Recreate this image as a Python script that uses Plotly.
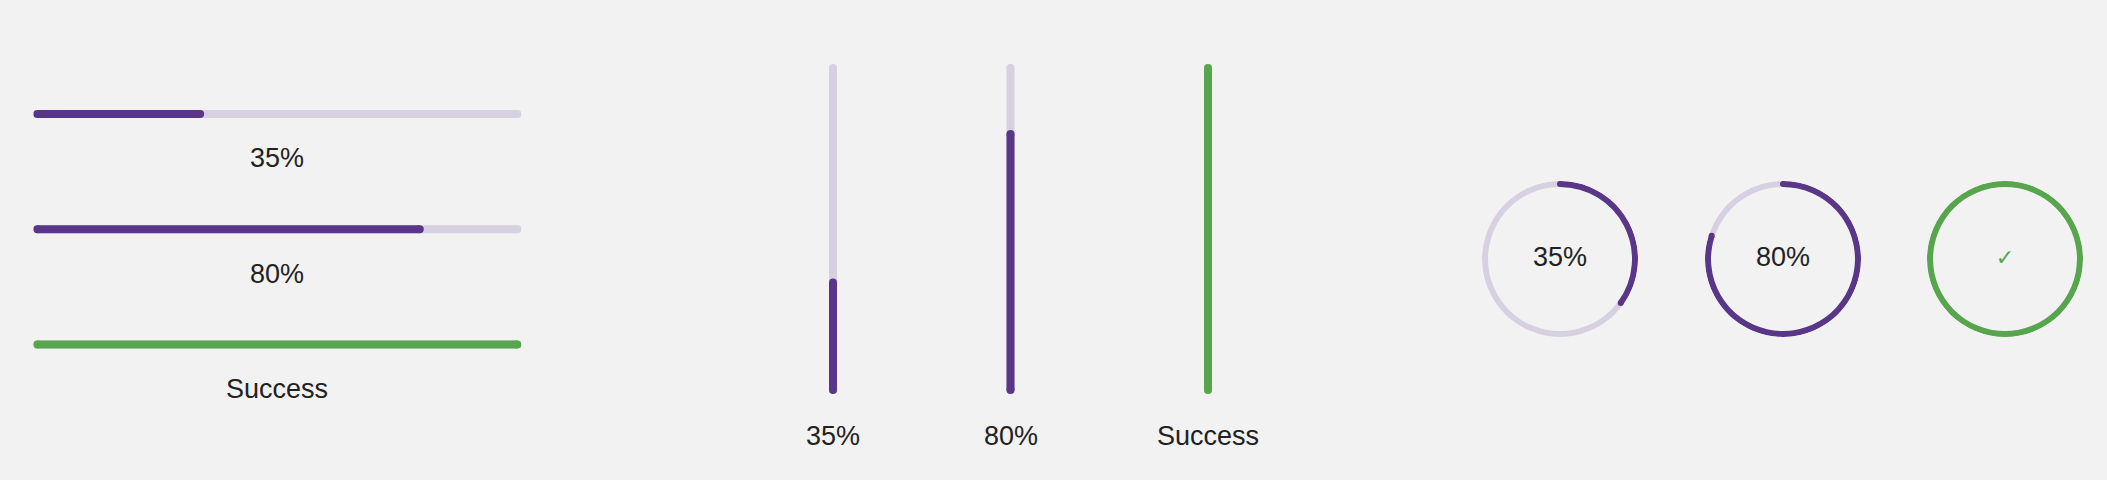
import plotly.graph_objects as go

# ---------------- data ----------------
LINEAR_LABELS = ["35%", "80%", "Success"]
LINEAR_VALUES = [35, 80, 100]
LINEAR_STATE = ["progress", "progress", "success"]

VERTICAL_LABELS = ["35%", "80%", "Success"]
VERTICAL_VALUES = [35, 80, 100]
VERTICAL_STATE = ["progress", "progress", "success"]

CIRCLE_LABELS = ["35%", "80%", "\u2713"]
CIRCLE_VALUES = [35, 80, 100]
CIRCLE_STATE = ["progress", "progress", "success"]

# ---------------- style ----------------
W, H = 2107, 480
BG = "#f2f2f2"
PURPLE = "#5a3689"
TRACK = "#d7d0e0"
GREEN = "#57a64e"
TEXT = "#222222"
FONT = "Liberation Sans, Arial, sans-serif"
FS = 27
BAR_T = 8          # bar thickness px
RING_T = 6         # ring thickness px
RING_R = 78        # ring outer radius px


def fill_color(state):
    return GREEN if state == "success" else PURPLE


def px_x(p):
    return p / W


def px_y(p):
    return (H - p) / H


fig = go.Figure()

# ---------- horizontal (linear) bars ----------
H_LEFT, H_RIGHT = 33.3, 521.4
H_ROW0, H_STEP = 114.0, 115.2
h_len = H_RIGHT - H_LEFT
h_cap = (BAR_T / 2) / h_len * 100
n = len(LINEAR_LABELS)
y_top = H_ROW0 - H_STEP / 2
y_bot = y_top + H_STEP * n

for lab, val, st in zip(LINEAR_LABELS, LINEAR_VALUES, LINEAR_STATE):
    for xs, col in (([h_cap, 100 - h_cap], TRACK), ([h_cap, val - h_cap], fill_color(st))):
        fig.add_trace(go.Scatter(
            x=xs, y=[lab, lab], mode="lines+markers",
            line=dict(color=col, width=BAR_T),
            marker=dict(color=col, size=BAR_T, line=dict(width=0)),
            xaxis="x", yaxis="y", hoverinfo="skip", showlegend=False))
    fig.add_annotation(x=0.5, xref="x domain", y=lab, yref="y", yshift=-44.5,
                       text=lab, showarrow=False,
                       font=dict(family=FONT, size=FS, color=TEXT))

fig.update_layout(
    xaxis=dict(domain=[px_x(H_LEFT), px_x(H_RIGHT)], range=[0, 100], visible=False,
               anchor="y"),
    yaxis=dict(domain=[px_y(y_bot), px_y(y_top)], type="category",
               categoryorder="array", categoryarray=LINEAR_LABELS,
               range=[n - 0.5, -0.5], visible=False, anchor="x"),
)

# ---------- vertical bars ----------
V_CENTERS = [833.0, 1010.5, 1208.0]
V_TOP, V_BOT = 64.0, 394.0
V_HALF = 30
v_len = V_BOT - V_TOP
v_cap = (BAR_T / 2) / v_len * 100

fig.update_layout(yaxis2=dict(domain=[px_y(V_BOT), px_y(V_TOP)], range=[0, 100],
                              visible=False, anchor="x2"))
for i, (lab, val, st) in enumerate(zip(VERTICAL_LABELS, VERTICAL_VALUES, VERTICAL_STATE)):
    ax = f"x{i + 2}"
    cx = V_CENTERS[i]
    fig.update_layout({f"xaxis{i + 2}": dict(
        domain=[px_x(cx - V_HALF), px_x(cx + V_HALF)], type="category",
        range=[-0.5, 0.5], visible=False, anchor="y2")})
    for ys, col in (([v_cap, 100 - v_cap], TRACK), ([v_cap, val - v_cap], fill_color(st))):
        fig.add_trace(go.Scatter(
            x=[lab, lab], y=ys, mode="lines+markers",
            line=dict(color=col, width=BAR_T),
            marker=dict(color=col, size=BAR_T, line=dict(width=0)),
            xaxis=ax, yaxis="y2", hoverinfo="skip", showlegend=False))
    fig.add_annotation(x=lab, xref=ax, y=0, yref="y2", yshift=-42,
                       text=lab, showarrow=False,
                       font=dict(family=FONT, size=FS, color=TEXT))

# ---------- circular progress ----------
C_CENTERS = [1560.0, 1783.0, 2005.0]
C_CY = 259.0
ring_w = RING_T / RING_R
for i, (lab, val, st) in enumerate(zip(CIRCLE_LABELS, CIRCLE_VALUES, CIRCLE_STATE)):
    pid = "polar" if i == 0 else f"polar{i + 1}"
    cx = C_CENTERS[i]
    fig.update_layout({pid: dict(
        domain=dict(x=[px_x(cx - RING_R), px_x(cx + RING_R)],
                    y=[px_y(C_CY + RING_R), px_y(C_CY - RING_R)]),
        bgcolor="rgba(0,0,0,0)",
        radialaxis=dict(range=[0, 1], visible=False),
        angularaxis=dict(visible=False, rotation=90, direction="clockwise"),
        barmode="overlay")})
    col = fill_color(st)
    ang = val * 3.6
    # track
    fig.add_trace(go.Barpolar(r=[ring_w], base=[1 - ring_w], theta=[180], width=[360],
                              marker=dict(color=TRACK, line=dict(width=0)),
                              subplot=pid, hoverinfo="skip", showlegend=False))
    # progress arc
    fig.add_trace(go.Barpolar(r=[ring_w], base=[1 - ring_w], theta=[ang / 2], width=[ang],
                              marker=dict(color=col, line=dict(width=0)),
                              subplot=pid, hoverinfo="skip", showlegend=False))
    # round caps
    if val < 100:
        fig.add_trace(go.Scatterpolar(r=[1 - ring_w / 2] * 2, theta=[0, ang], mode="markers",
                                      marker=dict(color=col, size=RING_T, line=dict(width=0)),
                                      subplot=pid, hoverinfo="skip", showlegend=False))
    is_check = st == "success"
    fig.add_trace(go.Scatterpolar(
        r=[0], theta=[0], mode="text", text=[lab], textposition="middle center",
        textfont=dict(family="DejaVu Sans" if is_check else FONT,
                      size=22 if is_check else FS,
                      color=GREEN if is_check else TEXT),
        subplot=pid, hoverinfo="skip", showlegend=False))

fig.update_layout(
    width=W, height=H,
    margin=dict(l=0, r=0, t=0, b=0),
    paper_bgcolor=BG, plot_bgcolor="rgba(0,0,0,0)",
    showlegend=False,
)

fig.write_html("out.html", config={"displayModeBar": False},
               post_script="document.body.style.margin='0';document.body.style.overflow='hidden';document.body.style.background='%s';" % BG)
